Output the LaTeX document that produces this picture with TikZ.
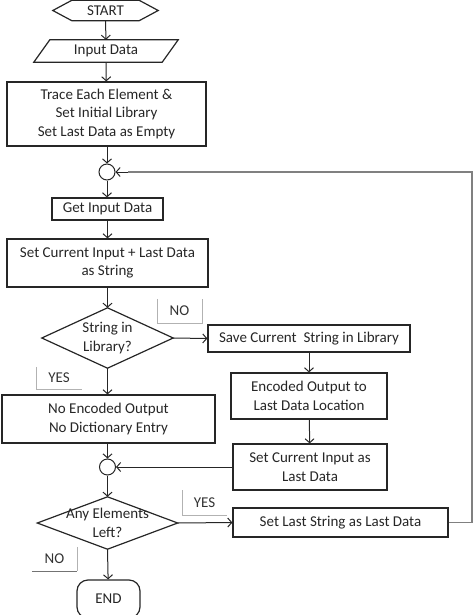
\documentclass[tikz,border=0pt]{standalone}
\usepackage{fontspec}
\setmainfont{Carlito}
\usetikzlibrary{arrows.meta}
\tikzset{
  every node/.style={font=\fontsize{15}{18.5}\selectfont, text=black!85},
  box/.style={draw=black!85, line width=1.2pt, inner sep=0pt, align=center},
  shapetxt/.style={inner sep=0pt, align=center},
  outline/.style={draw=black!85, line width=1.2pt},
  conn/.style={draw=black!85, line width=1pt, -{Straight Barb[length=4pt,width=9pt]}},
  ret/.style={draw=black!50, line width=1.5pt},
  junction/.style={circle, draw=black!85, line width=1pt, minimum size=16pt, inner sep=0pt},
  lbl/.style={shapetxt, text=black!80},
  lblline/.style={draw=black!30, line width=0.6pt},
}
\begin{document}
\begin{tikzpicture}[x=1pt,y=-1pt]
\useasboundingbox (0,0) rectangle (474,615);
% START hexagon
\node[shapetxt, minimum width=105pt, minimum height=20pt] (start) at (105.5,10.5) {START};
\draw[outline] (start.west) -- ([xshift=19pt]start.north west) -- ([xshift=-19pt]start.north east) -- (start.east)
  -- ([xshift=-19pt]start.south east) -- ([xshift=19pt]start.south west) -- cycle;
% Input Data parallelogram
\node[shapetxt, minimum width=128pt, minimum height=22pt] (inp) at (106,51) {Input Data};
\draw[outline] ([xshift=8pt]inp.north west) -- ([xshift=8pt]inp.north east) -- ([xshift=-8pt]inp.south east)
  -- ([xshift=-8pt]inp.south west) -- cycle;
% Trace box
\node[box, minimum width=199pt, minimum height=64pt] (trace) at (106.5,114) {Trace Each Element \&\\Set Initial Library\\Set Last Data as Empty};
% junction 1
\node[junction] (c1) at (107,172) {};
% Get input
\node[box, minimum width=111pt, minimum height=22pt] (get) at (107.5,209) {Get Input Data};
% Set current input + last data
\node[box, minimum width=201pt, minimum height=48pt] (setcur) at (107.5,263) {Set Current Input + Last Data\\as String};
% Diamond 1
\node[shapetxt, minimum width=131pt, minimum height=60pt] (d1) at (107.5,338) {String in\\Library?};
\draw[outline] (d1.north) -- (d1.east) -- (d1.south) -- (d1.west) -- cycle;
% Save
\node[box, minimum width=202pt, minimum height=27pt] (save) at (309,338.5) {Save Current\ \ String in Library};
% Encoded
\node[box, minimum width=156pt, minimum height=46pt] (enc) at (309,396) {Encoded Output to\\Last Data Location};
% Set current input as last data
\node[box, minimum width=154pt, minimum height=46pt] (setlast) at (310,467) {Set Current Input as\\Last Data};
% No encoded output
\node[box, minimum width=213pt, minimum height=48pt] (noenc) at (108.5,419) {No Encoded Output\\No Dictionary Entry};
% junction 2
\node[junction] (c2) at (107.5,467) {};
% Diamond 2
\node[shapetxt, minimum width=140pt, minimum height=52pt] (d2) at (107.5,523) {Any Elements\\Left?};
\draw[outline] (d2.north) -- (d2.east) -- (d2.south) -- (d2.west) -- cycle;
% Set last string
\node[box, minimum width=215pt, minimum height=29pt] (lasts) at (340.5,522.5) {Set Last String as Last Data};
% END
\node[box, rounded corners=11pt, minimum width=63pt, minimum height=38pt] (endn) at (108.5,599) {END};
% labels
\node[lbl, minimum width=45pt, minimum height=24pt] (lno1) at (179.5,311) {NO};
\draw[lblline] (lno1.north west) -- (lno1.south west) -- (lno1.south east) -- (lno1.north east);
\node[lbl, minimum width=46pt, minimum height=22pt] (lyes1) at (59,378) {YES};
\draw[lblline] (lyes1.north west) -- (lyes1.south west) -- (lyes1.south east);
\node[lbl, minimum width=45pt, minimum height=25pt] (lyes2) at (204.5,503) {YES};
\draw[lblline] (lyes2.north west) -- (lyes2.south west) -- (lyes2.south east);
\node[lbl, minimum width=45pt, minimum height=24pt] (lno2) at (54.5,559) {NO};
\draw[lblline] (lno2.north east) -- (lno2.south east);
\draw[draw=black!55, line width=0.8pt] (lno2.south west) -- (lno2.south east);
% connectors
\draw[conn] (start) -- (inp);
\draw[conn] (inp) -- (trace);
\draw[conn] (trace.south -| c1) -- (c1);
\draw[conn] (c1) -- (get.north -| c1);
\draw[conn] (get) -- (setcur);
\draw[conn] (setcur) -- (d1);
\draw[conn] (d1.east) -- (save.west);
\draw[conn] (d1.south) -- (noenc.north -| d1.south);
\draw[conn] (save) -- (enc);
\draw[conn] (enc) -- (setlast);
\draw[conn] (setlast.west) -- (c2.east);
\draw[conn] (noenc.south -| c2) -- (c2);
\draw[conn] (c2) -- (d2);
\draw[conn] (d2.east) -- (lasts.west);
\draw[conn] (d2.south) -- (endn);
\coordinate (rt) at (472,522.5);
\draw[ret] (lasts.east) -- (rt) |- ([xshift=12pt]c1.east);
\draw[conn] ([xshift=12pt]c1.east) -- (c1.east);
\end{tikzpicture}
\end{document}
